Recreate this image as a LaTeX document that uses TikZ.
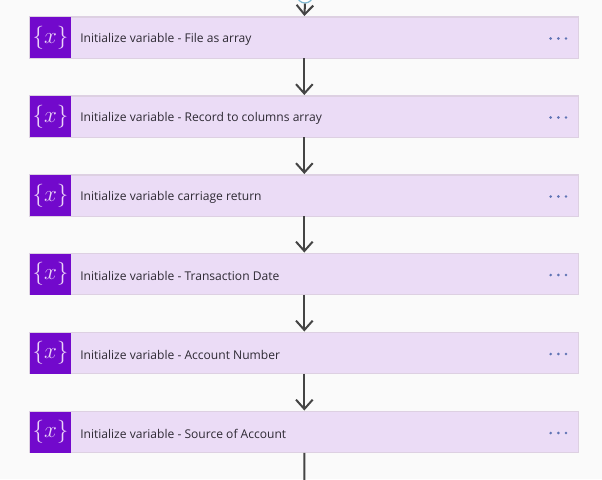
\documentclass[tikz,border=0pt]{standalone}
\usepackage{fontspec}
\setmainfont{Open Sans}
\usetikzlibrary{arrows.meta}
\definecolor{bgpage}{HTML}{FAFAFA}
\definecolor{cardfill}{HTML}{EBDCF6}
\definecolor{cardline}{HTML}{DDD0E2}
\definecolor{iconfill}{HTML}{7209CC}
\definecolor{iconfg}{HTML}{EBD4F8}
\definecolor{txt}{HTML}{2E2A34}
\definecolor{dotc}{HTML}{5F74B4}
\definecolor{conn}{HTML}{444444}
\definecolor{ringc}{HTML}{7FB8D0}
\tikzset{
  x=0.75pt,y=-0.75pt,
  card/.style={draw=cardline,fill=cardfill,line width=0.9pt,minimum width=411.5pt,minimum height=31pt,inner sep=0pt,outer sep=0pt,anchor=north west},
  icon/.style={fill=iconfill,text=iconfg,minimum width=30.75pt,minimum height=31pt,inner sep=0pt,outer sep=0pt,anchor=north west,font=\fontsize{17}{17}\selectfont},
  label/.style={text=txt,anchor=west,inner sep=0pt,font=\fontsize{9.05}{11}\selectfont},
  more/.style={fill=dotc,circle,minimum size=2.2pt,inner sep=0pt},
  flow/.style={draw=conn,line width=1.5pt,shorten >=0.75pt,-{Straight Barb[length=7pt,width=12.5pt,line width=1.5pt]}},
  plain/.style={draw=conn,line width=1.5pt},
  ring/.style={draw=ringc,fill=white,circle,line width=0.9pt,minimum size=12pt,inner sep=0pt}
}
\newcommand{\stepcard}[3]{%
  \node[card] (c#1) at (30,#2) {};
  \node[icon] (i#1) at (30,#2) {$\{x\}$};
  \node[label] (t#1) at (80,#2+22.5) {#3};
  \node[more] (ma#1) at (550.7,#2+21.5) {};
  \node[more] (mb#1) at (558.3,#2+21.5) {};
  \node[more] (mc#1) at (566,#2+21.5) {};
}
\begin{document}
\begin{tikzpicture}
\useasboundingbox[fill=bgpage] (0,0) rectangle (602,479);
\clip (0,0) rectangle (602,479);
\node[ring] (top) at (305,-5) {};
\stepcard{1}{17}{Initialize variable - File as array}
\stepcard{2}{96}{Initialize variable - Record to columns array}
\stepcard{3}{175}{Initialize variable carriage return}
\stepcard{4}{253.5}{Initialize variable - Transaction Date}
\stepcard{5}{332.5}{Initialize variable - Account Number}
\stepcard{6}{411.5}{Initialize variable - Source of Account}
\coordinate (bottom) at (304.5,485);
\draw[flow] (top.south) -- (c1.north);
\draw[flow] (c1.south) -- (c2.north);
\draw[flow] (c2.south) -- (c3.north);
\draw[flow] (c3.south) -- (c4.north);
\draw[flow] (c4.south) -- (c5.north);
\draw[flow] (c5.south) -- (c6.north);
\draw[plain] (c6.south) -- (bottom);
\end{tikzpicture}
\end{document}
